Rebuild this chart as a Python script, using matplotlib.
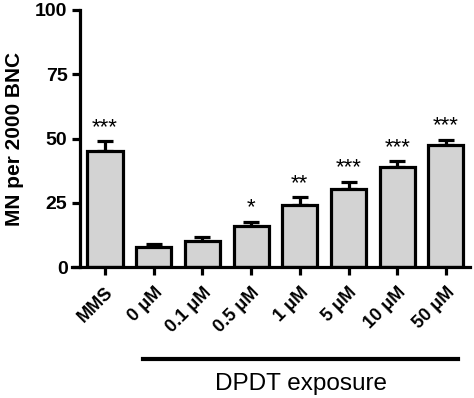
import matplotlib
matplotlib.use("Agg")
import matplotlib.pyplot as plt
import matplotlib.transforms as mtransforms

categories = ["MMS", "0 μM", "0.1 μM", "0.5 μM", "1 μM", "5 μM", "10 μM", "50 μM"]
means = [45.0, 7.7, 10.3, 16.1, 24.1, 30.4, 38.9, 47.4]
errors = [4.0, 1.3, 1.3, 1.5, 3.1, 2.8, 2.4, 2.2]
stars = ["***", "", "", "*", "**", "***", "***", "***"]
yticks = [0, 25, 50, 75, 100]

plt.rcParams['font.family'] = ['Liberation Sans', 'DejaVu Sans']

W, H = 474, 398
fig = plt.figure(figsize=(W / 100, H / 100), dpi=100)
ax_left, ax_right, ax_bottom, ax_top = 72, 470, 267, 10
ax = fig.add_axes([ax_left / W, (H - ax_bottom) / H, (ax_right - ax_left) / W, (ax_bottom - ax_top) / H])

x = list(range(len(categories)))
ax.bar(x, means, width=0.72, color="#d3d3d3", edgecolor="black", linewidth=2.3, zorder=2)
ax.errorbar(x, means, yerr=[[0] * len(means), errors], fmt="none", ecolor="black",
            elinewidth=2.3, capsize=6, capthick=2.3, zorder=1)

for xi, m, e, s in zip(x, means, errors, stars):
    if s:
        ax.text(xi, m + e + 1.2, s, ha="center", va="bottom", fontsize=16, fontweight="normal")

for sp in ["top", "right"]:
    ax.spines[sp].set_visible(False)
ax.spines["left"].set_position(("axes", (80 - ax_left) / (ax_right - ax_left)))
ax.spines["left"].set_linewidth(2.3)
ax.spines["bottom"].set_linewidth(2.3)
ax.tick_params(axis="both", width=2.3, length=6, direction="out")
ax.tick_params(axis="y", pad=3, labelsize=14)
ax.tick_params(axis="x", pad=6, labelsize=13)

ax.set_xlim(-0.678, 7.495)
ax.set_ylim(0, 100)
ax.set_yticks(yticks)
ax.set_yticklabels([str(t) for t in yticks])
ax.set_xticks(x)
ax.set_xticklabels(categories, rotation=45, ha="right", rotation_mode="anchor")
for lbl in ax.get_xticklabels() + ax.get_yticklabels():
    lbl.set_fontweight("bold")

ax.set_ylabel("MN per 2000 BNC", fontsize=15, fontweight="bold", labelpad=8)

trans = mtransforms.blended_transform_factory(ax.transData, ax.transAxes)
ax.plot([0.78, 7.25], [-0.358, -0.358], color="black", linewidth=3, transform=trans, clip_on=False)
ax.text((0.78 + 7.25) / 2, -0.455, "DPDT exposure", transform=trans, ha="center", va="center", fontsize=17.5)

fig.savefig("out.png", dpi=100)
